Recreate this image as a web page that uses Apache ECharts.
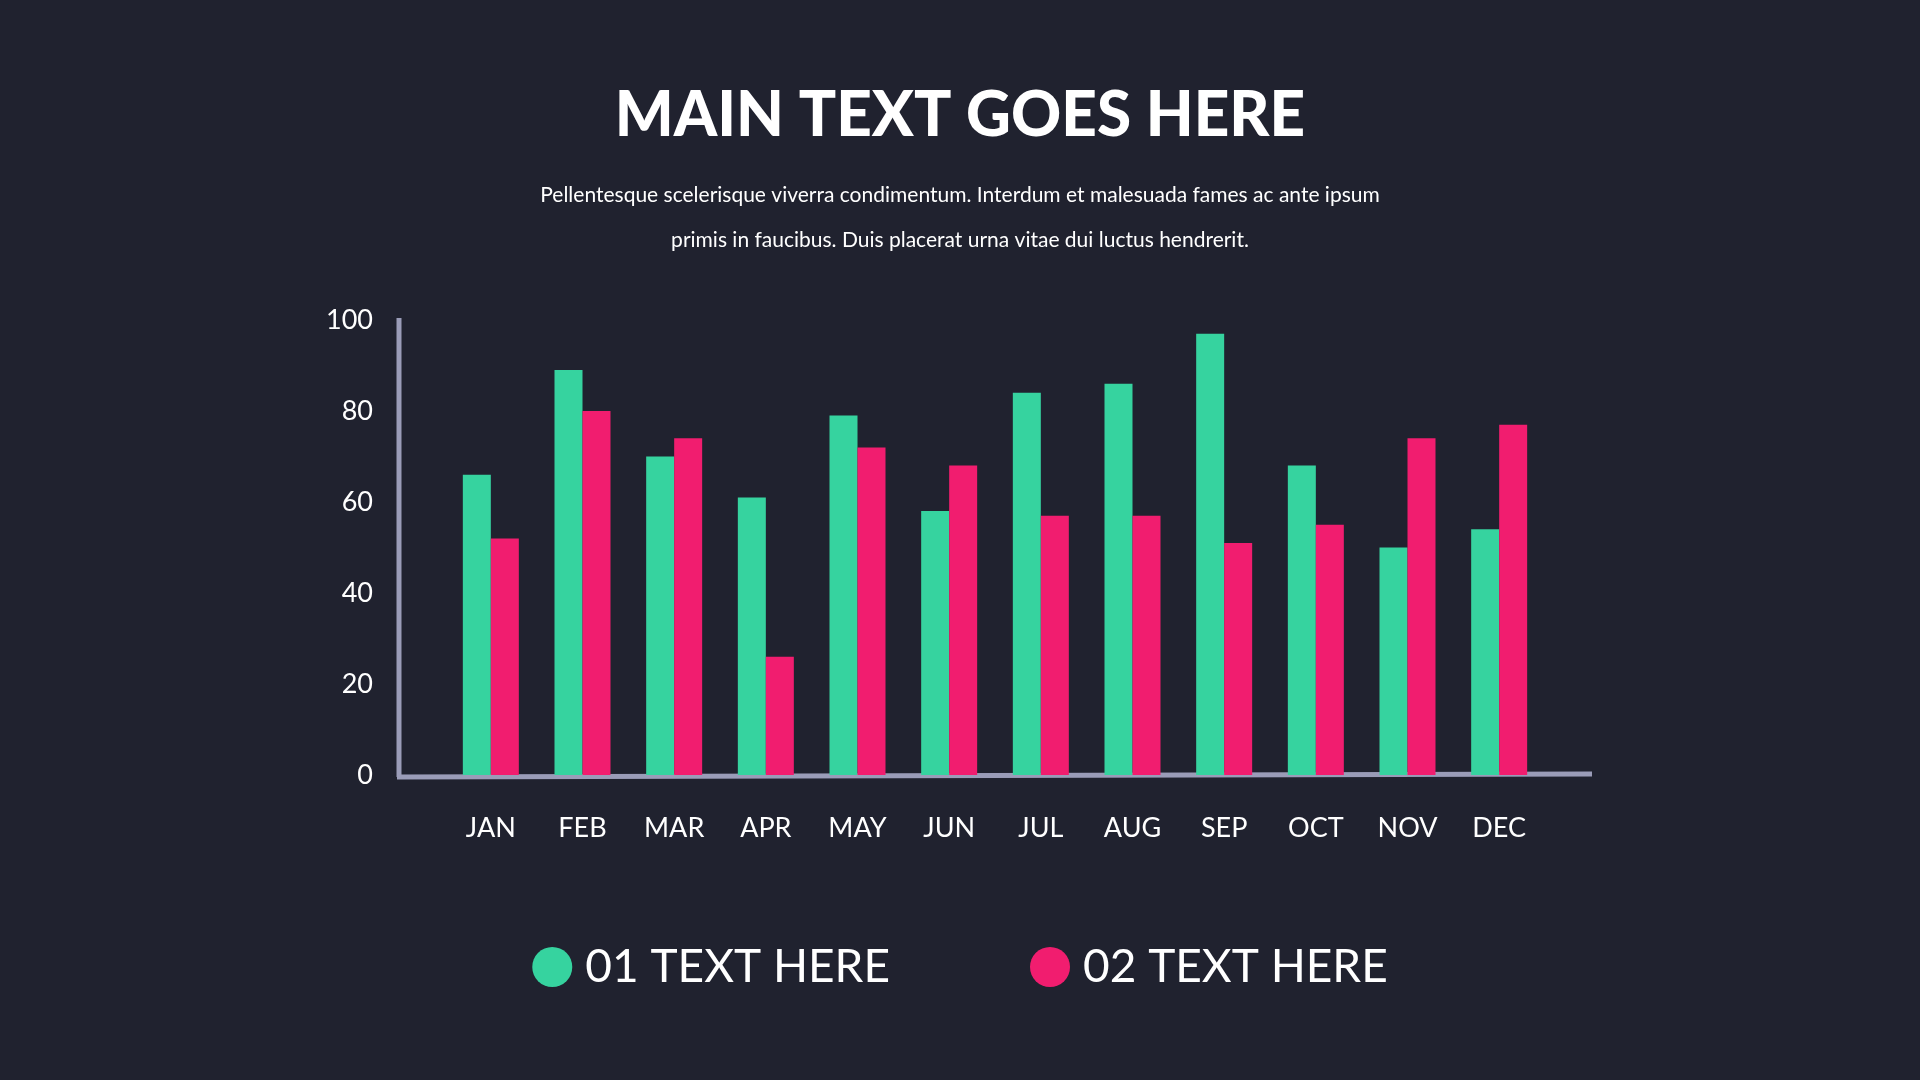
<!DOCTYPE html>
<html><head><meta charset="utf-8">
<script src="https://cdn.jsdelivr.net/npm/echarts@6/dist/echarts.min.js"></script>
<style>html,body{margin:0;background:#20222f}#c{width:1920px;height:1080px}</style>
</head><body><div id="c"></div>
<script>
const categories=['JAN','FEB','MAR','APR','MAY','JUN','JUL','AUG','SEP','OCT','NOV','DEC'];
const series1=[66,89,70,61,79,58,84,86,97,68,50,54];
const series2=[52,80,74,26,72,68,57,57,51,55,74,77];
const yTicks=[0,20,40,60,80,100];
const names=['01 TEXT HERE','02 TEXT HERE'];
const F='Lato, "Open Sans", sans-serif';
const chart=echarts.init(document.getElementById('c'));
chart.setOption({
  backgroundColor:'#20222f',
  title:{text:'MAIN TEXT GOES HERE',left:'center',top:80,
    textStyle:{color:'#fff',fontFamily:F,fontSize:62,fontWeight:900},
    subtext:'Pellentesque scelerisque viverra condimentum. Interdum et malesuada fames ac ante ipsum\nprimis in faucibus. Duis placerat urna vitae dui luctus hendrerit.',
    subtextStyle:{color:'#fff',fontFamily:F,fontSize:21,lineHeight:45},itemGap:26},
  legend:{bottom:85,left:'center',itemWidth:40,itemHeight:40,itemGap:140,icon:'circle',
    textStyle:{color:'#fff',fontFamily:F,fontSize:46,padding:[0,0,0,8]}},
  grid:{left:445,right:375,top:320,bottom:305},
  xAxis:{type:'category',data:categories,axisLine:{show:false},axisTick:{show:false},
    axisLabel:{color:'#fff',fontFamily:F,fontSize:27,margin:40}},
  yAxis:{type:'value',min:0,max:100,interval:20,splitLine:{show:false},axisLine:{show:false},
    axisLabel:{color:'#fff',fontFamily:F,fontSize:27,margin:72,formatter:v=>yTicks.includes(v)?String(v):''}},
  series:[
    {name:names[0],type:'bar',data:series1,barWidth:28,barGap:'0%',itemStyle:{color:'#36d39f'}},
    {name:names[1],type:'bar',data:series2,barWidth:28,itemStyle:{color:'#f11d6f'}}
  ],
  graphic:[
    {type:'line',shape:{x1:399,y1:318,x2:399,y2:777},style:{stroke:'#9a9cb8',lineWidth:5}},
    {type:'line',shape:{x1:397,y1:777,x2:1592,y2:774},style:{stroke:'#9a9cb8',lineWidth:5}}
  ]
});
</script></body></html>
